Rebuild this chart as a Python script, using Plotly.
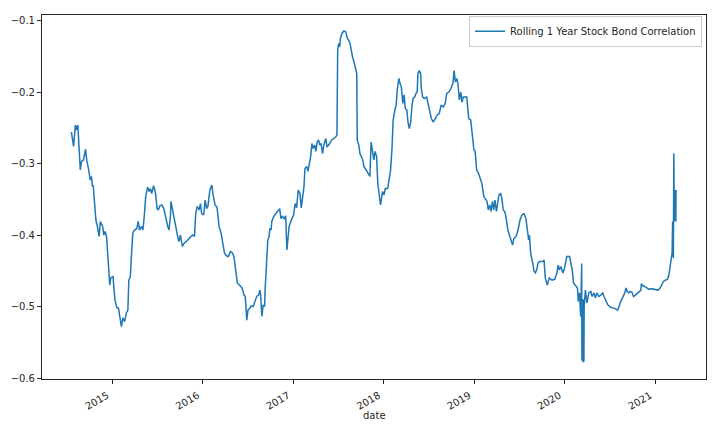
import plotly.graph_objects as go

dates = [
    "2014-07-20", "2014-07-29", "2014-08-05", "2014-08-09", "2014-08-15", "2014-08-25", "2014-08-30",
    "2014-09-07", "2014-09-15", "2014-09-21", "2014-09-29", "2014-10-04", "2014-10-09", "2014-10-13",
    "2014-10-16", "2014-10-21", "2014-10-27", "2014-11-01", "2014-11-09", "2014-11-14", "2014-11-23",
    "2014-11-28", "2014-12-03", "2014-12-09", "2014-12-17", "2014-12-22", "2014-12-26",
    "2015-01-04", "2015-01-12", "2015-01-20", "2015-01-26", "2015-01-31", "2015-02-07", "2015-02-13",
    "2015-02-20", "2015-02-27", "2015-03-05", "2015-03-09", "2015-03-15", "2015-03-20", "2015-03-25",
    "2015-04-01", "2015-04-10", "2015-04-16", "2015-04-21", "2015-04-29", "2015-05-05", "2015-05-11",
    "2015-05-16", "2015-05-24", "2015-05-30", "2015-06-04", "2015-06-09", "2015-06-17", "2015-06-25",
    "2015-07-01", "2015-07-06", "2015-07-12", "2015-07-20", "2015-07-28", "2015-08-05", "2015-08-13",
    "2015-08-18", "2015-08-24", "2015-08-26", "2015-09-01", "2015-09-06", "2015-09-14", "2015-09-22",
    "2015-09-27", "2015-10-03", "2015-10-11", "2015-10-19", "2015-10-27", "2015-11-10", "2015-11-21",
    "2015-11-29", "2015-12-04", "2015-12-10", "2015-12-18", "2015-12-23", "2015-12-28",
    "2016-01-05", "2016-01-11", "2016-01-17", "2016-01-22", "2016-01-30", "2016-02-07", "2016-02-12",
    "2016-02-20", "2016-02-28", "2016-03-07", "2016-03-15", "2016-03-21", "2016-03-29", "2016-04-06",
    "2016-04-14", "2016-04-22", "2016-04-30", "2016-05-06", "2016-05-15", "2016-05-20", "2016-05-31",
    "2016-06-08", "2016-06-16", "2016-06-21", "2016-06-27", "2016-07-02", "2016-07-10", "2016-07-15",
    "2016-07-23", "2016-07-31", "2016-08-06", "2016-08-14", "2016-08-19", "2016-08-22", "2016-08-27",
    "2016-09-01", "2016-09-07", "2016-09-09", "2016-09-15", "2016-09-20", "2016-09-25", "2016-09-28",
    "2016-10-03", "2016-10-06", "2016-10-14", "2016-10-22", "2016-10-30", "2016-11-07", "2016-11-12",
    "2016-11-18", "2016-11-26", "2016-12-01", "2016-12-06", "2016-12-09", "2016-12-15", "2016-12-24",
    "2017-01-02", "2017-01-08", "2017-01-14", "2017-01-21", "2017-01-28", "2017-02-02", "2017-02-08",
    "2017-02-13", "2017-02-17", "2017-02-24", "2017-03-01", "2017-03-06", "2017-03-12", "2017-03-17",
    "2017-03-22", "2017-03-28", "2017-04-02", "2017-04-07", "2017-04-13", "2017-04-18", "2017-04-23",
    "2017-04-29", "2017-05-04", "2017-05-12", "2017-05-17", "2017-05-23", "2017-05-28", "2017-06-05",
    "2017-06-13", "2017-06-21", "2017-06-26", "2017-06-29", "2017-07-03", "2017-07-07", "2017-07-10",
    "2017-07-16", "2017-07-24", "2017-08-01", "2017-08-07", "2017-08-12", "2017-08-18", "2017-08-23",
    "2017-08-28", "2017-09-03", "2017-09-08", "2017-09-14", "2017-09-16", "2017-09-22", "2017-09-27",
    "2017-10-02", "2017-10-08", "2017-10-13", "2017-10-21", "2017-10-26", "2017-11-01", "2017-11-06",
    "2017-11-11", "2017-11-17", "2017-11-22", "2017-11-27", "2017-12-03", "2017-12-08", "2017-12-13",
    "2017-12-19", "2017-12-27",
    "2018-01-02", "2018-01-07", "2018-01-17", "2018-01-23", "2018-01-28", "2018-02-03", "2018-02-08",
    "2018-02-15", "2018-02-20", "2018-02-25", "2018-03-03", "2018-03-08", "2018-03-13", "2018-03-19",
    "2018-03-24", "2018-03-29", "2018-04-04", "2018-04-09", "2018-04-14", "2018-04-20", "2018-04-25",
    "2018-04-30", "2018-05-06", "2018-05-11", "2018-05-16", "2018-05-19", "2018-05-24", "2018-05-30",
    "2018-06-01", "2018-06-07", "2018-06-15", "2018-06-23", "2018-06-28", "2018-07-04", "2018-07-12",
    "2018-07-20", "2018-07-28", "2018-08-05", "2018-08-13", "2018-08-21", "2018-08-29", "2018-09-06",
    "2018-09-12", "2018-09-21", "2018-09-29", "2018-10-07", "2018-10-12", "2018-10-17", "2018-10-23",
    "2018-10-28", "2018-11-02", "2018-11-08", "2018-11-13", "2018-11-18", "2018-12-02", "2018-12-04",
    "2018-12-10", "2018-12-18", "2018-12-23", "2018-12-31",
    "2019-01-05", "2019-01-11", "2019-01-19", "2019-01-27", "2019-02-01", "2019-02-09", "2019-02-17",
    "2019-02-22", "2019-02-27", "2019-03-05", "2019-03-10", "2019-03-16", "2019-03-21", "2019-03-26",
    "2019-04-01", "2019-04-06", "2019-04-11", "2019-04-18", "2019-04-23", "2019-04-28", "2019-05-04",
    "2019-05-09", "2019-05-17", "2019-05-25", "2019-05-30", "2019-06-05", "2019-06-10", "2019-06-19",
    "2019-06-27", "2019-07-05", "2019-07-13", "2019-07-21", "2019-07-29", "2019-08-04", "2019-08-09",
    "2019-08-12", "2019-08-17", "2019-08-25", "2019-08-31", "2019-09-05", "2019-09-10", "2019-09-16",
    "2019-09-21", "2019-10-05", "2019-10-10", "2019-10-15", "2019-10-23", "2019-10-31", "2019-11-11",
    "2019-11-22", "2019-12-01", "2019-12-06", "2019-12-11", "2019-12-17", "2019-12-25", "2019-12-30",
    "2020-01-04", "2020-01-10", "2020-01-21", "2020-01-26", "2020-02-01", "2020-02-06", "2020-02-14",
    "2020-02-22", "2020-02-25", "2020-03-01", "2020-03-06",
    "2020-03-09", "2020-03-10", "2020-03-11", "2020-03-12", "2020-03-13", "2020-03-16", "2020-03-17",
    "2020-03-18", "2020-03-19", "2020-03-20",
    "2020-03-25", "2020-03-31", "2020-04-08", "2020-04-16", "2020-04-21", "2020-04-29", "2020-05-04",
    "2020-05-10", "2020-05-18", "2020-05-26", "2020-06-03", "2020-06-08", "2020-06-16", "2020-06-24",
    "2020-07-05", "2020-07-15", "2020-07-23", "2020-08-01", "2020-08-06", "2020-08-12", "2020-08-17",
    "2020-08-25", "2020-08-31", "2020-09-05", "2020-09-10", "2020-09-16", "2020-09-21", "2020-09-29",
    "2020-10-05", "2020-10-13", "2020-10-21", "2020-10-29", "2020-11-04", "2020-11-06", "2020-11-12",
    "2020-11-20", "2020-11-28", "2020-12-06", "2020-12-14", "2020-12-25",
    "2021-01-05", "2021-01-13", "2021-01-21", "2021-01-29", "2021-02-03", "2021-02-11", "2021-02-19",
    "2021-02-25", "2021-03-01", "2021-03-05", "2021-03-08", "2021-03-10", "2021-03-12", "2021-03-15",
    "2021-03-17", "2021-03-19", "2021-03-22", "2021-03-25", "2021-03-26",
]

correlation = [
    -0.256, -0.276, -0.246, -0.253, -0.246, -0.309, -0.297,
    -0.295, -0.280, -0.297, -0.311, -0.323, -0.318, -0.332,
    -0.330, -0.360, -0.379, -0.386, -0.402, -0.381, -0.388,
    -0.400, -0.395, -0.402, -0.439, -0.470, -0.460,
    -0.458, -0.491, -0.502, -0.502, -0.514, -0.528, -0.516,
    -0.521, -0.509, -0.505, -0.463, -0.458, -0.425, -0.397,
    -0.393, -0.391, -0.381, -0.393, -0.388, -0.393, -0.370,
    -0.346, -0.333, -0.339, -0.335, -0.342, -0.331, -0.342,
    -0.363, -0.365, -0.359, -0.358, -0.363, -0.377, -0.388,
    -0.393, -0.374, -0.353, -0.365, -0.370, -0.386, -0.402,
    -0.409, -0.400, -0.416, -0.411, -0.409, -0.404, -0.400,
    -0.402, -0.370, -0.360, -0.365, -0.356, -0.370,
    -0.372, -0.351, -0.363, -0.360, -0.337, -0.330, -0.344,
    -0.358, -0.361, -0.388, -0.397, -0.411, -0.425, -0.429,
    -0.430, -0.423, -0.425, -0.430, -0.453, -0.467, -0.471,
    -0.474, -0.484, -0.486, -0.519, -0.505, -0.502, -0.499,
    -0.500, -0.493, -0.486, -0.484, -0.477, -0.484, -0.514,
    -0.498, -0.500, -0.477, -0.425, -0.407, -0.402, -0.391,
    -0.393, -0.381, -0.374, -0.370, -0.367, -0.363, -0.377,
    -0.374, -0.377, -0.373, -0.421, -0.411, -0.388, -0.379,
    -0.372, -0.356, -0.362, -0.337, -0.342, -0.362, -0.346,
    -0.332, -0.307, -0.304, -0.311, -0.302, -0.290, -0.272,
    -0.279, -0.274, -0.283, -0.270, -0.267, -0.274, -0.272,
    -0.286, -0.274, -0.265, -0.277, -0.274, -0.272, -0.267,
    -0.265, -0.263, -0.260, -0.1415, -0.132, -0.137, -0.125,
    -0.118, -0.1145, -0.116, -0.125, -0.127, -0.132, -0.144,
    -0.151, -0.158, -0.165, -0.174, -0.267, -0.274, -0.286,
    -0.290, -0.295, -0.304, -0.309, -0.311, -0.314, -0.318,
    -0.270, -0.286, -0.295, -0.283, -0.290, -0.328, -0.342,
    -0.358, -0.339,
    -0.344, -0.335, -0.335, -0.321, -0.311, -0.281, -0.239,
    -0.225, -0.218, -0.195, -0.181, -0.188, -0.193, -0.216,
    -0.204, -0.223, -0.225, -0.242, -0.251, -0.242, -0.218,
    -0.209, -0.207, -0.202, -0.200, -0.174, -0.170, -0.174,
    -0.193, -0.207, -0.209, -0.207, -0.216, -0.228, -0.237,
    -0.242, -0.237, -0.232, -0.230, -0.218, -0.221, -0.216,
    -0.202, -0.200, -0.195, -0.188, -0.170, -0.186, -0.181,
    -0.190, -0.211, -0.200, -0.214, -0.207, -0.207, -0.216,
    -0.237, -0.239, -0.256, -0.281,
    -0.283, -0.309, -0.314, -0.325, -0.328, -0.346, -0.351,
    -0.353, -0.365, -0.358, -0.367, -0.353, -0.365, -0.351,
    -0.367, -0.353, -0.344, -0.342, -0.349, -0.365, -0.367,
    -0.374, -0.393, -0.402, -0.407, -0.414, -0.405, -0.402,
    -0.393, -0.379, -0.372, -0.370, -0.377, -0.393, -0.407,
    -0.400, -0.425, -0.439, -0.451, -0.453, -0.449, -0.439,
    -0.437, -0.437, -0.435, -0.460, -0.470, -0.460, -0.463,
    -0.462, -0.453, -0.442, -0.449, -0.444, -0.453, -0.449,
    -0.439, -0.430, -0.430, -0.437, -0.449, -0.467, -0.470,
    -0.474, -0.493, -0.481, -0.514,
    -0.480, -0.440, -0.575, -0.500, -0.577, -0.490, -0.578,
    -0.500, -0.575, -0.500,
    -0.477, -0.495, -0.481, -0.479, -0.486, -0.481, -0.488,
    -0.481, -0.486, -0.484, -0.481, -0.486, -0.493, -0.498,
    -0.501, -0.502, -0.503, -0.505, -0.502, -0.495, -0.491,
    -0.486, -0.481, -0.474, -0.479, -0.481, -0.479, -0.480,
    -0.486, -0.484, -0.481, -0.479, -0.477, -0.468, -0.471,
    -0.472, -0.474, -0.476, -0.475, -0.476,
    -0.476, -0.477, -0.474, -0.468, -0.465, -0.463, -0.462,
    -0.456, -0.444, -0.439, -0.428, -0.425, -0.381, -0.432,
    -0.286, -0.381, -0.337, -0.381, -0.337,
]

series_name = "Rolling 1 Year Stock Bond Correlation"
y_ticks = [-0.6, -0.5, -0.4, -0.3, -0.2, -0.1]
y_tick_labels = ["\u22120.6", "\u22120.5", "\u22120.4", "\u22120.3", "\u22120.2", "\u22120.1"]
x_ticks = ["2015-01-01", "2016-01-01", "2017-01-01", "2018-01-01", "2019-01-01", "2020-01-01", "2021-01-01"]
x_tick_labels = ["2015", "2016", "2017", "2018", "2019", "2020", "2021"]

font = "DejaVu Sans"

fig = go.Figure()
fig.add_trace(go.Scatter(
    x=dates, y=correlation, mode="lines", name=series_name,
    line=dict(color="#1f77b4", width=1.5),
    showlegend=True,
))

axis_common = dict(
    showgrid=False, zeroline=False, showline=True, mirror=True,
    linecolor="#262626", linewidth=1, ticks="outside", ticklen=4, tickwidth=1,
    tickcolor="#262626", tickfont=dict(family=font, size=10, color="#262626"),
)

fig.update_layout(
    width=720, height=432,
    margin=dict(l=42, r=14, t=15, b=53, pad=0),
    paper_bgcolor="white", plot_bgcolor="white",
    font=dict(family=font, size=10, color="#262626"),
    showlegend=True,
    legend=dict(
        x=0.994, y=0.998, xanchor="right", yanchor="top",
        bgcolor="rgba(255,255,255,0.8)", bordercolor="#cccccc", borderwidth=1,
        font=dict(family=font, size=10, color="#262626"),
        itemwidth=30, tracegroupgap=0,
    ),
    xaxis=dict(
        type="date",
        range=["2014-03-23 10:00", "2021-07-24 19:00"],
        tickmode="array", tickvals=x_ticks, ticktext=x_tick_labels,
        tickangle=-30, ticklabelshift=-5, ticklabelstandoff=2,
        **axis_common,
    ),
    yaxis=dict(
        range=[-0.6014, -0.0922],
        tickmode="array", tickvals=y_ticks, ticktext=y_tick_labels,
        **axis_common,
    ),
    annotations=[dict(
        text="date", xref="paper", yref="paper", x=0.5, y=-0.1,
        xanchor="center", yanchor="middle", showarrow=False,
        font=dict(family=font, size=10, color="#262626"),
    )],
)

fig.write_html("out.html")
